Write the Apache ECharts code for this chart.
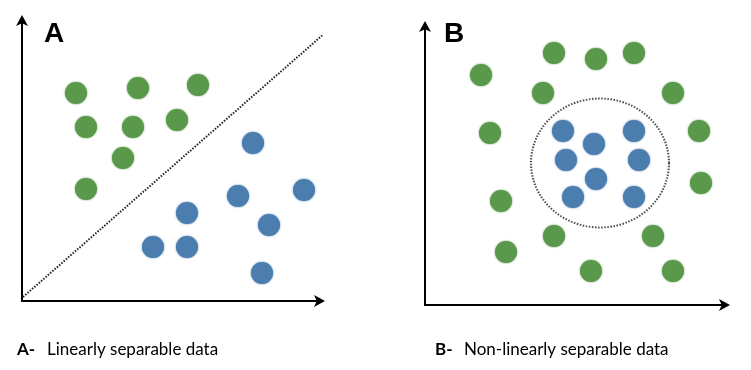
<!DOCTYPE html>
<html>
<head>
<meta charset="utf-8">
<script src="https://cdn.jsdelivr.net/npm/echarts@6/dist/echarts.min.js"></script>
<style>
html,body{margin:0;padding:0;background:#fff;}
#chart{width:751px;height:370px;}
</style>
</head>
<body>
<div id="chart"></div>
<script>
// Panel A: linearly separable data
var greenA = [[54,208],[116,213],[176,216],[64,174],[111,174],[155,181],[101,143],[64,112]];
var blueA  = [[231,158],[216,105],[282,111],[165,88],[247,76],[131,54],[165,54],[240,28]];
var boundaryA = [[1,4],[303,268]];

// Panel B: non-linearly separable data
var greenB = [[129,252],[171,246],[209,252],[56,230],[118,212],[248,212],[65,172],[274,174],
              [276,122],[76,104],[129,69],[228,69],[81,53],[166,34],[248,34]];
var blueB  = [[138,174],[169,161],[209,174],[141,145],[214,145],[171,126],[148,108],[209,108]];
var boundaryB = [[175,142]];

var panelLabels = ['A', 'B'];
var captionHeads = ['A-', 'B-'];
var captionTexts = ['Linearly separable data', 'Non-linearly separable data'];

var GREEN = '#5a994b';
var BLUE = '#4b7eaf';

var chart = echarts.init(document.getElementById('chart'), null, {renderer: 'canvas'});

function axisStyle() {
  return {
    show: true,
    onZero: false,
    symbol: ['none', 'arrow'],
    symbolSize: [9, 11],
    symbolOffset: [0, 3],
    lineStyle: {color: '#000', width: 2}
  };
}
function makeX(idx, max) {
  return {type: 'value', gridIndex: idx, min: 0, max: max,
    axisLine: axisStyle(), axisTick: {show: false}, axisLabel: {show: false}, splitLine: {show: false}};
}
function makeY(idx, max) {
  return {type: 'value', gridIndex: idx, min: 0, max: max,
    axisLine: axisStyle(), axisTick: {show: false}, axisLabel: {show: false}, splitLine: {show: false}};
}
function dots(data, color, idx) {
  return {type: 'scatter', xAxisIndex: idx, yAxisIndex: idx, data: data, symbolSize: 22,
    itemStyle: {color: color, opacity: 1, shadowBlur: 2, shadowColor: color}, silent: true, z: 3};
}

chart.setOption({
  animation: false,
  backgroundColor: '#fff',
  grid: [
    {left: 22, top: 18, width: 300, height: 283},
    {left: 425, top: 24, width: 302, height: 281}
  ],
  xAxis: [makeX(0, 300), makeX(1, 302)],
  yAxis: [makeY(0, 283), makeY(1, 281)],
  series: [
    dots(greenA, GREEN, 0),
    dots(blueA, BLUE, 0),
    {type: 'line', xAxisIndex: 0, yAxisIndex: 0, data: boundaryA, symbol: 'none', silent: true,
      lineStyle: {color: '#222', width: 2, type: [1.5, 1.5]}, z: 2},
    dots(greenB, GREEN, 1),
    dots(blueB, BLUE, 1),
    {type: 'scatter', xAxisIndex: 1, yAxisIndex: 1, data: boundaryB, symbol: 'circle',
      symbolSize: [138, 129], silent: true, z: 2,
      itemStyle: {color: 'rgba(0,0,0,0)', borderColor: '#222', borderWidth: 2, borderType: [1.5, 1.5]}}
  ],
  graphic: [
    {type: 'text', left: 44, top: 20, style: {text: panelLabels[0], font: 'bold 28px "Liberation Sans", Arial', fill: '#000'}},
    {type: 'text', left: 444, top: 20, style: {text: panelLabels[1], font: 'bold 28px "Liberation Sans", Arial', fill: '#000'}},
    {type: 'text', left: 17, top: 341, style: {text: captionHeads[0], font: 'bold 17px Lato', fill: '#000'}},
    {type: 'text', left: 47, top: 341, style: {text: captionTexts[0], font: '17px Lato', fill: '#000'}},
    {type: 'text', left: 435, top: 341, style: {text: captionHeads[1], font: 'bold 17px Lato', fill: '#000'}},
    {type: 'text', left: 464, top: 341, style: {text: captionTexts[1], font: '17px Lato', fill: '#000'}}
  ]
});
</script>
</body>
</html>
